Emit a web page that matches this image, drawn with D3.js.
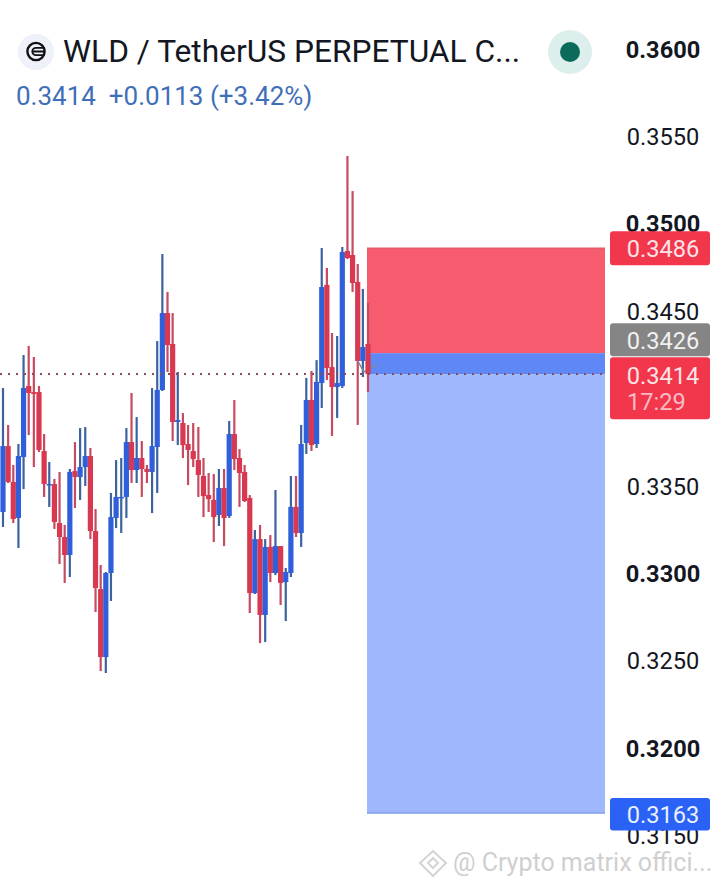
<!DOCTYPE html>
<html>
<head>
<meta charset="utf-8">
<script src="https://cdn.jsdelivr.net/npm/d3@7"></script>
<style>
  html, body { margin: 0; padding: 0; background: #fff; }
  svg { display: block; }
  text { font-family: Roboto, sans-serif; }
  .tick text { font-size: 23.6px; fill: #131722; }
  .tick.major text { font-weight: 700; }
</style>
</head>
<body>
<div id="chart"></div>
<script>
const width = 720, height = 888;

// candles, left to right
const high = [.34066,.33855,.33626,.33746,.34255,.34307,.34244,.34078,.33803,.33643,.33546,.33586,.33283,.33603,.33757,.33837,.33843,.33723,.33374,.33054,.33014,.33466,.33654,.33666,.33837,.34038,.33900,.33763,.33626,.34066,.34335,.34833,.34616,.34495,.34158,.33923,.33855,.33866,.33843,.33666,.33580,.33574,.33603,.33603,.33878,.33998,.33717,.33626,.33454,.33254,.33283,.33202,.33225,.33483,.33162,.33037,.33563,.33563,.33855,.34124,.34164,.34226,.34867,.34753,.34381,.34364,.34873,.35394,.35193,.34776,.34633,.34553];
const low = [.33271,.33523,.33294,.33151,.33488,.33797,.33614,.33700,.33443,.33386,.33260,.33059,.32951,.32985,.33380,.33426,.33506,.33202,.32785,.32447,.32436,.32848,.33265,.33237,.33323,.33523,.33523,.33443,.33523,.33351,.33466,.34049,.34158,.33763,.33740,.33666,.33511,.33614,.33443,.33328,.33357,.33185,.33277,.33162,.33323,.33597,.33386,.33414,.32779,.32888,.32607,.32613,.32956,.32996,.32825,.32733,.32985,.33214,.33157,.33689,.33706,.33723,.33952,.34112,.33792,.33895,.34066,.34804,.34616,.33855,.34129,.34043];
const open = [.33357,.33734,.33529,.33323,.33672,.34078,.34043,.34043,.33706,.33511,.33517,.33294,.33214,.33111,.33591,.33557,.33614,.33677,.33248,.32916,.32527,.33008,.33323,.33437,.33443,.33757,.33597,.33666,.33603,.33586,.33729,.34055,.34495,.34318,.33872,.33866,.33746,.33706,.33654,.33563,.33454,.33426,.33340,.33494,.33334,.33803,.33666,.33586,.33437,.32893,.33202,.32768,.33157,.33008,.33162,.32956,.33008,.33386,.33237,.33752,.33998,.33746,.34095,.34656,.34186,.34072,.34078,.34850,.34827,.34673,.34221,.34318];
const close = [.33734,.33529,.33317,.33677,.34066,.34038,.34032,.33712,.33517,.33517,.33300,.33214,.33111,.33586,.33557,.33614,.33677,.33248,.32922,.32527,.33008,.33328,.33443,.33443,.33757,.33597,.33666,.33603,.33586,.33734,.34055,.34495,.34312,.33872,.33883,.33740,.33712,.33660,.33569,.33448,.33431,.33328,.33494,.33323,.33803,.33660,.33580,.33420,.32893,.33202,.32768,.33157,.33008,.33162,.32951,.33014,.33386,.33237,.33746,.33998,.33740,.34101,.34644,.34181,.34072,.34095,.34844,.34810,.34667,.34221,.34301,.34146];

const tickValues = [0.36, 0.355, 0.35, 0.345, 0.335, 0.33, 0.325, 0.32, 0.315];
const majorTicks = [0.36, 0.35, 0.33, 0.32];

const lastPrice = 0.3414;
const entryPrice = 0.3426;
const targetPrice = 0.3486;
const stopPrice = 0.3163;
const lastClose = close[close.length - 1];

const titleText = "WLD / TetherUS PERPETUAL C...";
const quoteText = "0.3414  +0.0113 (+3.42%)";
const countdown = "17:29";
const watermark = "@ Crypto matrix offici...";

// the little grey hook under the last candles (candle index, price)
const hookIndex = [69, 70.2, 72.8];
const hookPrice = [0.34221, 0.34158, 0.34200];

const upBody = "#2f5fdb", downBody = "#d83850";
const upWick = "#3b649f", downWick = "#c64a60";

const svg = d3.select("#chart")
  .append("svg")
  .attr("width", width)
  .attr("height", height);

svg.append("rect").attr("width", width).attr("height", height).attr("fill", "#fff");

const x = d3.scaleLinear().domain([0, high.length - 1]).range([3, 368]);
const y = d3.scaleLinear().domain([0.315, 0.36]).range([836.6, 50]);

/*
  Axis
*/
const axis = svg.append("g")
  .attr("transform", "translate(663,0)")
  .call(d3.axisRight(y).tickValues(tickValues).tickSize(0).tickPadding(0).tickFormat(d3.format(".4f")));
axis.select(".domain").remove();
axis.selectAll(".tick text").attr("text-anchor", "middle").attr("dy", "0.3em");
axis.selectAll(".tick").classed("major", d => majorTicks.includes(d));

/*
  Candles
*/
const candles = svg.selectAll(".candle")
  .data(d3.range(high.length))
  .enter()
  .append("g")
  .attr("class", "candle");

candles.append("line")
  .attr("x1", i => x(i))
  .attr("x2", i => x(i))
  .attr("y1", i => y(high[i]))
  .attr("y2", i => y(low[i]))
  .attr("stroke", i => close[i] >= open[i] ? upWick : downWick)
  .attr("stroke-width", 2.2);

candles.append("rect")
  .attr("x", i => x(i) - 2.6)
  .attr("width", 5.2)
  .attr("y", i => y(Math.max(open[i], close[i])))
  .attr("height", i => Math.max(1.5, Math.abs(y(open[i]) - y(close[i]))))
  .attr("fill", i => close[i] >= open[i] ? upBody : downBody);

/*
  Long position box
*/
const boxLeft = 367, boxRight = 605;
const box = svg.append("g").attr("transform", "translate(0,-1)");

box.append("rect")
  .attr("x", boxLeft).attr("width", boxRight - boxLeft)
  .attr("y", y(targetPrice)).attr("height", y(entryPrice) - y(targetPrice))
  .attr("fill", "#f65c6e");
box.append("rect")
  .attr("x", boxLeft).attr("width", boxRight - boxLeft)
  .attr("y", y(entryPrice)).attr("height", y(lastClose) - y(entryPrice) + 1)
  .attr("fill", "#5f88f6");
box.append("rect")
  .attr("x", boxLeft).attr("width", boxRight - boxLeft)
  .attr("y", y(lastClose) + 1).attr("height", y(stopPrice) - y(lastClose) - 1)
  .attr("fill", "#9fb7fd");
box.append("line")
  .attr("x1", boxLeft).attr("x2", boxRight)
  .attr("y1", y(stopPrice)).attr("y2", y(stopPrice))
  .attr("stroke", "#7d9df0").attr("stroke-width", 1.5);
box.append("line")
  .attr("x1", boxLeft).attr("x2", boxRight)
  .attr("y1", y(targetPrice)).attr("y2", y(targetPrice))
  .attr("stroke", "#e8596b").attr("stroke-width", 1.5);

// hook, then the last candle on top of the box edge
svg.append("path")
  .attr("d", d3.line().x(d => x(d[0])).y(d => y(d[1]))(d3.zip(hookIndex, hookPrice)))
  .attr("fill", "none")
  .attr("stroke", "#7f8aa0")
  .attr("stroke-width", 1.5);
svg.selectAll(".candle").filter(i => i === high.length - 1).raise();

// last price line
svg.append("line")
  .attr("x1", 0).attr("x2", boxRight)
  .attr("y1", y(lastClose)).attr("y2", y(lastClose))
  .attr("stroke", "#8a4a58")
  .attr("stroke-width", 2)
  .attr("stroke-dasharray", "2 6");

/*
  Price tags
*/
function tag(top, h, fill, lines, textFill, baseline) {
  const g = svg.append("g");
  g.append("rect")
    .attr("x", 610).attr("y", top).attr("width", 100).attr("height", h)
    .attr("rx", 3).attr("fill", fill);
  lines.forEach((l, k) => {
    g.append("text")
      .attr("x", k === 0 ? 663 : 627)
      .attr("y", top + baseline + k * 26)
      .attr("text-anchor", k === 0 ? "middle" : "start")
      .attr("font-size", 23.6)
      .attr("fill", k === 0 ? textFill : "#f9bcc3")
      .text(l);
  });
}
const fmt = d3.format(".4f");
tag(y(targetPrice) - 18, 34, "#f2364c", [fmt(targetPrice)], "#fbe4e7", 26);
tag(y(entryPrice) - 31, 33, "#858585", [fmt(entryPrice)], "#f1f1f1", 26);
tag(y(lastPrice) - 18, 62, "#f2364c", [fmt(lastPrice), countdown], "#fbe4e7", 27);
tag(y(stopPrice) - 16, 32.5, "#2962f5", [fmt(stopPrice)], "#eaf0ff", 25);

/*
  Header
*/
svg.append("circle").attr("cx", 36).attr("cy", 52).attr("r", 18).attr("fill", "#eef0fa");
const logo = svg.append("g").attr("fill", "none").attr("stroke", "#111");
logo.append("circle").attr("cx", 36).attr("cy", 51.5).attr("r", 8.6).attr("stroke-width", 2.4);
logo.append("path").attr("d", "M44.5 47.8H36A3.7 3.7 0 0 0 36 55.2H44.5M33 51.5H44.5").attr("stroke-width", 1.8);

svg.append("text")
  .attr("x", 63).attr("y", 62)
  .attr("font-size", 31.7)
  .attr("fill", "#131722")
  .text(titleText);

svg.append("text")
  .attr("x", 16).attr("y", 105)
  .attr("font-size", 26)
  .attr("fill", "#3f6fb8")
  .style("white-space", "pre")
  .text(quoteText);

svg.append("circle").attr("cx", 570).attr("cy", 52).attr("r", 22).attr("fill", "#dcefec");
svg.append("circle").attr("cx", 570).attr("cy", 52).attr("r", 10).attr("fill", "#0b6b5a");

/*
  Watermark
*/
const mark = svg.append("g").attr("fill", "none").attr("stroke", "#d4d4d4").attr("stroke-width", 2);
mark.append("path").attr("d", "M433 851L446 863L433 876L420 863Z");
mark.append("path").attr("d", "M433 858L438 863L433 868L428 863Z");

svg.append("text")
  .attr("x", 453).attr("y", 871)
  .attr("font-size", 25)
  .attr("fill", "#cfcfcf")
  .text(watermark);
</script>
</body>
</html>
